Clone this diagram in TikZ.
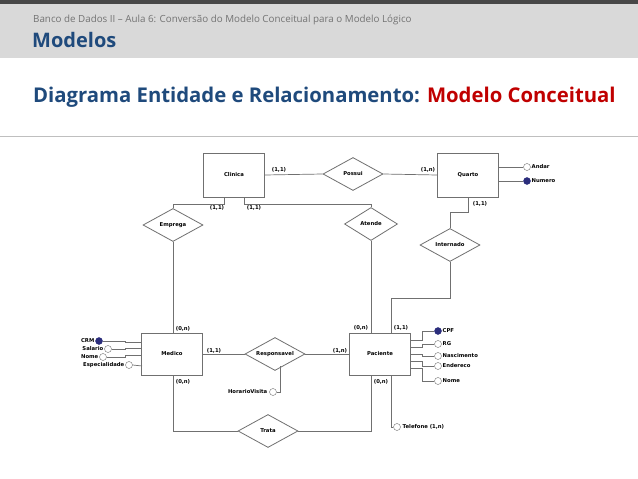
\documentclass[tikz,border=0pt]{standalone}
\usepackage{fontspec}
\setmainfont{Open Sans}
\newfontfamily\dv{DejaVu Sans}
\usetikzlibrary{shapes.geometric}
\definecolor{hblue}{HTML}{1F4A7C}
\definecolor{hred}{HTML}{C00000}
\definecolor{navy}{HTML}{2B2D7C}
\definecolor{ln}{HTML}{707070}
\begin{document}
\begin{tikzpicture}[x=1pt,y=-1pt,
  ent/.style={draw=ln,line width=0.8pt,minimum width=61pt,minimum height=44pt,inner sep=0pt,font=\dv\bfseries\fontsize{5.3}{6}\selectfont},
  rel/.style={diamond,aspect=1.85,draw=ln,line width=0.8pt,minimum width=60pt,minimum height=33pt,inner sep=0pt,font=\dv\bfseries\fontsize{5.3}{6}\selectfont},
  lab/.style={font=\dv\bfseries\fontsize{5.3}{6}\selectfont,inner sep=0.5pt},
  att/.style={circle,draw=ln,fill=white,minimum size=7pt,inner sep=0pt},
  key/.style={att,fill=navy,draw=navy},
  con/.style={draw=ln,line width=0.7pt}]
\useasboundingbox (0,0) rectangle (638,479);
\fill[white] (0,0) rectangle (638,479);
\fill[black!72] (0,0) rectangle (638,4);
\fill[black!15] (0,4) rectangle (638,58);
\node[anchor=west,text=black!55,font=\fontsize{9.8}{11}\selectfont,inner sep=0] at (33,20) {Banco de Dados II – Aula 6: Conversão do Modelo Conceitual para o Modelo Lógico};
\node[anchor=west,text=hblue,font=\bfseries\fontsize{20}{24}\selectfont,inner sep=0] (t1) at (32,40) {Modelos};
\node[anchor=west,font=\bfseries\fontsize{20.3}{24}\selectfont,inner sep=0] (t2) at (33,97) {\textcolor{hblue}{Diagrama Entidade e Relacionamento:} \textcolor{hred}{Modelo Conceitual}};
\draw[black!25,line width=0.8pt] (0,136) -- (638,136);

\node[ent] (cli) at (234,175) {Clinica};
\node[ent] (qua) at (468,175) {Quarto};
\node[ent,minimum height=42pt] (med) at (172,354) {Medico};
\node[ent,minimum height=42pt] (pac) at (380,354) {Paciente};
\node[rel] (pos) at (353,174) {Possui};
\node[rel] (emp) at (173,225) {Emprega};
\node[rel,minimum width=53pt] (ate) at (371,224) {Atende};
\node[rel] (int) at (450,245) {Internado};
\node[rel] (res) at (275,354) {Responsavel};
\node[rel] (tra) at (268,431) {Trata};

\draw[con] (cli.east) -- (pos.west);
\draw[con] (pos.east) -- (qua.west);
\coordinate (c1) at (224,197);
\draw[con] (c1) |- (173,204) -- (emp.north);
\coordinate (c2) at (244,197);
\draw[con] (c2) |- (371,204) -- (ate.north);
\draw[con] (emp.south) -- (emp.south |- med.north);
\draw[con] (ate.south) -- (ate.south |- pac.north);
\coordinate (q1) at (468,197);
\draw[con] (q1) |- (450,212) -- (int.north);
\coordinate (p1) at (391,333);
\draw[con] (int.south) |- (391,298) -- (p1);
\draw[con] (med.east) -- (res.west);
\draw[con] (res.east) -- (pac.west);
\node[att] (hv) at (273,392) {};
\node[lab,anchor=east] at (268,392) {HorarioVisita};
\draw[con] (280,366) |- (hv.east);
\coordinate (m1) at (173,375);
\draw[con] (m1) |- (tra.west);
\coordinate (p2) at (371,375);
\draw[con] (tra.east) -| (p2);
\node[att] (tel) at (397,427) {};
\node[lab,anchor=west] at (402,427) {Telefone (1,n)};
\coordinate (p3) at (391,375);
\draw[con] (p3) |- (tel.west);

% Medico attributes
\node[key] (crm) at (99,341) {};
\node[att] (sal) at (108,349) {};
\node[att] (nom) at (103,357) {};
\node[att] (esp) at (129,365) {};
\node[lab,anchor=east] at (95,341) {CRM};
\node[lab,anchor=east] at (104,349) {Salario};
\node[lab,anchor=east] at (99,357) {Nome};
\node[lab,anchor=east] at (125,365) {Especialidade};
\draw[con] (crm.east) -- (125,341) -- (125,342) -- (142,342);
\draw[con] (sal.east) -- (125,349) -- (125,348) -- (142,348);
\draw[con] (nom.east) -- (125,357) -- (125,355) -- (142,355);
\draw[con] (esp.east) -- (142,366);

% Paciente attributes
\node[key] (cpf) at (438,331) {};
\node[att] (rg) at (438,344) {};
\node[att] (nas) at (438,356) {};
\node[att] (end) at (438,366) {};
\node[att] (pno) at (438,381) {};
\node[lab,anchor=west] at (442,331) {CPF};
\node[lab,anchor=west] at (442,344) {RG};
\node[lab,anchor=west] at (442,356) {Nascimento};
\node[lab,anchor=west] at (442,366) {Endereco};
\node[lab,anchor=west] at (442,381) {Nome};
\draw[con] (411,340) -- (422,340) |- (cpf.west);
\draw[con] (411,347) -- (422,347) |- (rg.west);
\draw[con] (411,354) -- (422,354) |- (nas.west);
\draw[con] (411,361) -- (422,361) |- (end.west);
\draw[con] (411,368) -- (422,368) |- (pno.west);

% Quarto attributes
\node[att] (and) at (527,167) {};
\node[key] (num) at (527,181) {};
\node[lab,anchor=west] at (531,167) {Andar};
\node[lab,anchor=west] at (531,181) {Numero};
\draw[con] (498,167) -- (and.west);
\draw[con] (498,181) -- (num.west);

% cardinalities
\node[lab] at (279,170) {(1,1)};
\node[lab] at (428,170) {(1,n)};
\node[lab] at (217,208) {(1,1)};
\node[lab] at (254,208) {(1,1)};
\node[lab] at (480,204) {(1,1)};
\node[lab] at (183,329) {(0,n)};
\node[lab] at (183,382) {(0,n)};
\node[lab] at (214,351) {(1,1)};
\node[lab] at (340,351) {(1,n)};
\node[lab] at (361,328) {(0,n)};
\node[lab] at (401,328) {(1,1)};
\node[lab] at (381,382) {(0,n)};
\end{tikzpicture}
\end{document}
